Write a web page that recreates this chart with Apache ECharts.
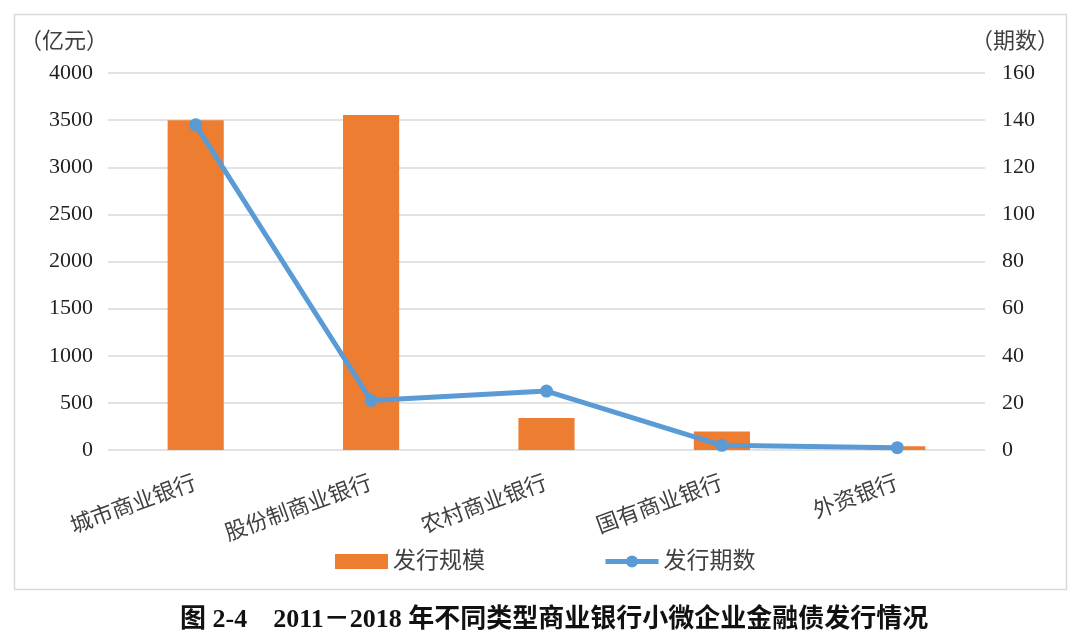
<!DOCTYPE html>
<html><head><meta charset="utf-8">
<script src="https://cdn.jsdelivr.net/npm/echarts@6/dist/echarts.min.js"></script>
<style>html,body{margin:0;padding:0;background:#fff}#c{width:1080px;height:643px}</style>
</head><body><div id="c"></div>
<script>
const categories = ['城市商业银行','股份制商业银行','农村商业银行','国有商业银行','外资银行'];
const scaleValues = [3500, 3555, 340, 195, 40];   // 发行规模（亿元）
const countValues = [138, 21, 25, 2, 1];          // 发行期数
const leftTicks = {min:0, max:4000, interval:500};
const rightTicks = {min:0, max:160, interval:20};
const seriesNames = ['发行规模','发行期数'];
const titleText = '图 2-4　2011－2018 年不同类型商业银行小微企业金融债发行情况';

const font = '"Liberation Serif","Noto Sans CJK SC",serif';
const chart = echarts.init(document.getElementById('c'));
chart.setOption({
  animation:false,
  grid:{left:108, right:95, top:73, bottom:193, containLabel:false},
  legend:{
    data:[{name:seriesNames[0], icon:'rect'}, {name:seriesNames[1], lineStyle:{width:5}}],
    top:545, left:330, itemGap:118, itemWidth:53, itemHeight:15,
    textStyle:{fontSize:23, color:'#404040', fontFamily:font}
  },
  xAxis:{
    type:'category', data:categories,
    axisLine:{show:false}, axisTick:{show:false},
    axisLabel:{rotate:20, fontSize:22, color:'#404040', fontFamily:font, margin:33, interval:0}
  },
  yAxis:[{
    type:'value', min:leftTicks.min, max:leftTicks.max, interval:leftTicks.interval,
    name:'（亿元）', nameLocation:'end', nameGap:31,
    nameTextStyle:{fontSize:22, color:'#404040', fontFamily:font, align:'right', verticalAlign:'middle'},
    axisLabel:{fontSize:22, color:'#222', fontFamily:font, margin:15, formatter:v=>String(v)},
    splitLine:{lineStyle:{color:'#d9d9d9', width:1.5}}, axisLine:{show:false}, axisTick:{show:false}
  },{
    type:'value', min:rightTicks.min, max:rightTicks.max, interval:rightTicks.interval,
    name:'（期数）', nameLocation:'end', nameGap:31,
    nameTextStyle:{fontSize:22, color:'#404040', fontFamily:font, align:'left', verticalAlign:'middle', padding:[0,0,0,-14]},
    axisLabel:{fontSize:22, color:'#222', fontFamily:font, margin:17, formatter:v=>String(v)},
    splitLine:{show:false}, axisLine:{show:false}, axisTick:{show:false}
  }],
  series:[{
    name:seriesNames[0], type:'bar', data:scaleValues, yAxisIndex:0,
    barWidth:'32%', itemStyle:{color:'#ED7D31'}
  },{
    name:seriesNames[1], type:'line', data:countValues, yAxisIndex:1,
    symbol:'circle', symbolSize:13,
    lineStyle:{color:'#5B9BD5', width:5}, itemStyle:{color:'#5B9BD5'}
  }],
  graphic:[{
    type:'rect', shape:{x:14.5, y:14.5, width:1052, height:575},
    style:{fill:'none', stroke:'#d9d9d9', lineWidth:1.5}, silent:true
  },{
    type:'text', left:180, top:607,
    style:{text:titleText, font:'bold 26px "Liberation Serif","Noto Sans CJK SC",serif', fill:'#111'}
  }]
});
</script></body></html>
